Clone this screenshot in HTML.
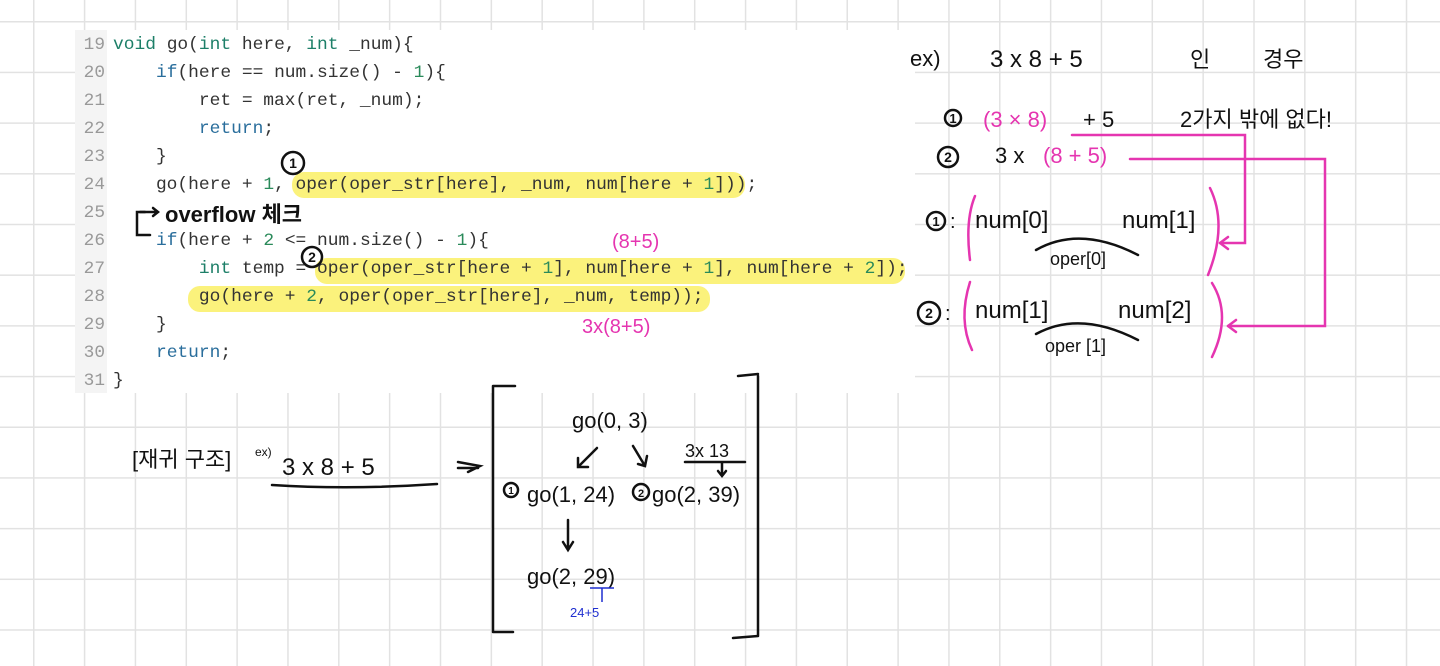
<!DOCTYPE html>
<html><head><meta charset="utf-8"><style>
html,body{margin:0;padding:0;width:1440px;height:666px;overflow:hidden;background:#fff}
.grid{position:absolute;left:0;top:0;width:1440px;height:666px;
background-image:linear-gradient(to right,#e2e2e2 1.5px,transparent 1.5px),linear-gradient(to bottom,#e2e2e2 1.5px,transparent 1.5px);
background-size:50.85px 50.7px;background-position:33px 21px}
.code{position:absolute;left:75px;top:30px;width:840px;height:363px;background:#fff}
.gut{position:absolute;left:0;top:0;width:32px;height:363px;background:#f4f4f4}
.ln{position:absolute;left:0;width:30px;text-align:right;font:17.8px "Liberation Mono",monospace;color:#999}
.cl{position:absolute;left:38px;font:17.9px "Liberation Mono",monospace;color:#333;white-space:pre}
.k{color:#1d7f68}.b{color:#2a6e9c}.n{color:#2a8a5a}
.hl{position:absolute;background:#fbf27c;border-radius:12px}
svg{position:absolute;left:0;top:0}
</style></head><body>
<div class="grid"></div>
<div class="code">
<div class="gut"></div>
<div class="hl" style="left:217px;top:142px;width:453px;height:26px"></div>
<div class="hl" style="left:240px;top:228px;width:590px;height:26px"></div>
<div class="hl" style="left:113px;top:256px;width:522px;height:26px"></div>
<div class="ln" style="top:5px">19</div><div class="cl" style="top:5px"><span class="k">void</span> go(<span class="k">int</span> here, <span class="k">int</span> _num){</div>
<div class="ln" style="top:33px">20</div><div class="cl" style="top:33px">    <span class="b">if</span>(here == num.size() - <span class="n">1</span>){</div>
<div class="ln" style="top:61px">21</div><div class="cl" style="top:61px">        ret = max(ret, _num);</div>
<div class="ln" style="top:89px">22</div><div class="cl" style="top:89px">        <span class="b">return</span>;</div>
<div class="ln" style="top:117px">23</div><div class="cl" style="top:117px">    }</div>
<div class="ln" style="top:145px">24</div><div class="cl" style="top:145px">    go(here + <span class="n">1</span>, oper(oper_str[here], _num, num[here + <span class="n">1</span>]));</div>
<div class="ln" style="top:173px">25</div>
<div class="ln" style="top:201px">26</div><div class="cl" style="top:201px">    <span class="b">if</span>(here + <span class="n">2</span> &lt;= num.size() - <span class="n">1</span>){</div>
<div class="ln" style="top:229px">27</div><div class="cl" style="top:229px">        <span class="k">int</span> temp = oper(oper_str[here + <span class="n">1</span>], num[here + <span class="n">1</span>], num[here + <span class="n">2</span>]);</div>
<div class="ln" style="top:257px">28</div><div class="cl" style="top:257px">        go(here + <span class="n">2</span>, oper(oper_str[here], _num, temp));</div>
<div class="ln" style="top:285px">29</div><div class="cl" style="top:285px">    }</div>
<div class="ln" style="top:313px">30</div><div class="cl" style="top:313px">    <span class="b">return</span>;</div>
<div class="ln" style="top:341px">31</div><div class="cl" style="top:341px">}</div>
</div>
<svg width="1440" height="666" viewBox="0 0 1440 666" font-family="Liberation Sans, Noto Sans CJK KR, sans-serif">
<g fill="none" stroke="#111" stroke-width="2.5" stroke-linecap="round">
<circle cx="293" cy="163" r="11"/>
<circle cx="312" cy="257" r="10"/>
<path d="M145 212 L137 212 L137 235 L150 235"/>
<path d="M140 212 L158 212 M153 208 L158 212 L153 216"/>
<path d="M493 386 L493 632 M493 386 L515 386 M493 632 L513 632"/>
<path d="M758 376 L758 636 M738 376 L758 374 M733 638 L758 636"/>
<path d="M272 485 Q350 490 437 484"/>
<path d="M458 462 L480 466 L468 472 M458 468 L478 468"/>
<path d="M597 448 L578 467 M578 458 L578 467 L588 467"/>
<path d="M633 446 L645 466 M638 464 L645 466 L647 456"/>
<path d="M568 520 L568 548 M563 542 L568 550 L573 542"/>
<path d="M685 462 L745 462 M722 462 L722 475 M718 471 L722 476 L726 471"/>
<path d="M1036 250 Q1080 225 1138 255"/>
<path d="M1036 334 Q1080 310 1138 340"/>
<circle cx="953" cy="118" r="8"/><circle cx="948" cy="157" r="10"/>
<circle cx="936" cy="221" r="9"/><circle cx="929" cy="313" r="11"/>
<circle cx="511" cy="490" r="7"/><circle cx="641" cy="492" r="8"/>
</g>
<g fill="#111" font-size="22">
<text x="165" y="222" font-size="22" font-weight="bold">overflow 체크</text>
<text x="293" y="168" font-size="14" font-weight="bold" text-anchor="middle">1</text>
<text x="312" y="262" font-size="14" font-weight="bold" text-anchor="middle">2</text>
<text x="953" y="123" font-size="13" font-weight="bold" text-anchor="middle">1</text>
<text x="948" y="162" font-size="14" font-weight="bold" text-anchor="middle">2</text>
<text x="936" y="226" font-size="13" font-weight="bold" text-anchor="middle">1</text>
<text x="929" y="318" font-size="14" font-weight="bold" text-anchor="middle">2</text>
<text x="511" y="494" font-size="10" font-weight="bold" text-anchor="middle">1</text>
<text x="641" y="497" font-size="11" font-weight="bold" text-anchor="middle">2</text>
<text x="910" y="66" font-size="22">ex)</text>
<text x="990" y="67" font-size="24">3  x  8 + 5</text>
<text x="1190" y="67" font-size="22">인</text><text x="1263" y="67" font-size="22">경우</text>
<text x="1083" y="127" font-size="22">+  5</text>
<text x="1180" y="127" font-size="22">2가지 밖에 없다!</text>
<text x="995" y="163" font-size="22">3 x</text>
<text x="950" y="228" font-size="20">:</text><text x="945" y="320" font-size="20">:</text>
<text x="975" y="228" font-size="24">num[0]</text><text x="1122" y="228" font-size="24">num[1]</text>
<text x="1050" y="265" font-size="18">oper[0]</text>
<text x="975" y="318" font-size="24">num[1]</text><text x="1118" y="318" font-size="24">num[2]</text>
<text x="1045" y="352" font-size="18">oper [1]</text>
<text x="132" y="467" font-size="22">[재귀 구조]</text><text x="255" y="456" font-size="12">ex)</text>
<text x="282" y="475" font-size="24">3 x   8   + 5</text>
<text x="572" y="428" font-size="22">go(0, 3)</text>
<text x="685" y="457" font-size="18">3x 13</text>
<text x="527" y="502" font-size="22">go(1, 24)</text>
<text x="652" y="502" font-size="22">go(2, 39)</text>
<text x="527" y="584" font-size="22">go(2, 29)</text>
</g>
<g fill="#1f2fd0"><text x="570" y="617" font-size="13">24+5</text>
<path d="M590 588 L614 588 M602 588 L602 602" stroke="#1f2fd0" stroke-width="1.5" fill="none"/></g>
<g fill="#e535b0" font-size="22">
<text x="612" y="248" font-size="20">(8+5)</text>
<text x="582" y="333" font-size="20">3x(8+5)</text>
<text x="983" y="127" font-size="22">(3 × 8)</text>
<text x="1043" y="163" font-size="22">(8  +  5)</text>
</g>
<g fill="none" stroke="#e535b0" stroke-width="2.5" stroke-linecap="round">
<path d="M1072 135 L1245 135 L1245 243 L1220 243"/>
<path d="M1130 159 L1325 159 L1325 326 L1228 326"/>
<path d="M1220 243 L1228 237 M1220 243 L1228 249"/>
<path d="M1228 326 L1236 320 M1228 326 L1236 332"/>
<path d="M975 196 Q965 220 970 260"/><path d="M1210 188 Q1228 225 1208 275"/>
<path d="M970 282 Q958 320 972 350"/><path d="M1212 283 Q1232 315 1212 357"/>
</g>
</svg>
</body></html>
